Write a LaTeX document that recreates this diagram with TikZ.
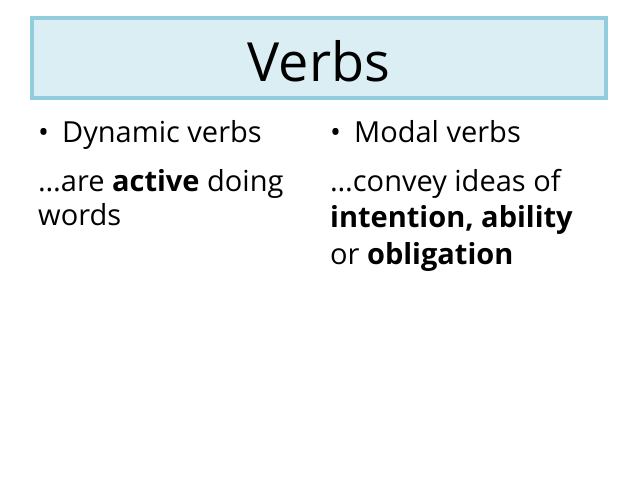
\documentclass[tikz,border=0pt]{standalone}
\usepackage{fontspec}
\setmainfont{Open Sans}
\definecolor{tborder}{HTML}{93CDDD}
\definecolor{tfill}{HTML}{DAEEF3}
\begin{document}
\begin{tikzpicture}[x=1pt,y=-1pt,
  txt/.style={anchor=base west,inner sep=0pt,font=\fontsize{29}{34}\selectfont}]
\useasboundingbox (0,0) rectangle (638,478);
\node[draw=tborder,line width=3.5pt,fill=tfill,minimum width=574pt,minimum height=80pt,inner sep=0pt] (title) at (319,58) {};
\node[inner sep=0pt,font=\fontsize{54}{60}\selectfont] (t) at (319,61) {Verbs};
\node[txt] (a1) at (38,143) {•\hspace{0.45em}Dynamic verbs};
\node[txt] (a2) at (38,192) {…are \textbf{active} doing};
\node[txt] (a3) at (38,226) {words};
\node[txt] (b1) at (330,143) {•\hspace{0.45em}Modal verbs};
\node[txt] (b2) at (330,192) {…convey ideas of};
\node[txt] (b3) at (330,228) {\textbf{intention, ability}};
\node[txt] (b4) at (330,265) {or \textbf{obligation}};
\end{tikzpicture}
\end{document}
